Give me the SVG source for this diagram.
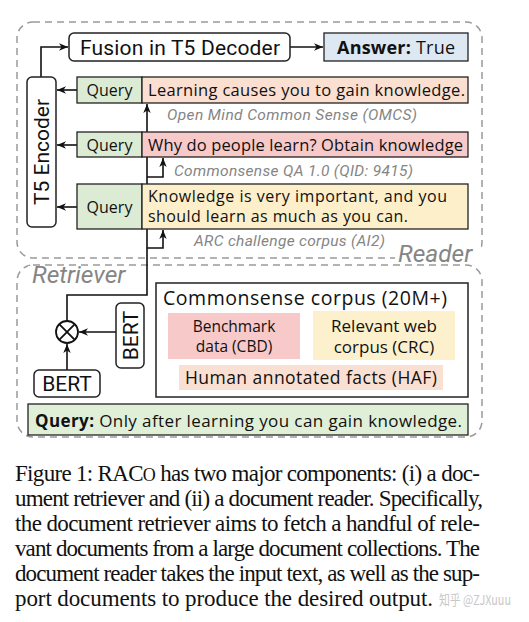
<svg xmlns="http://www.w3.org/2000/svg" width="529" height="622" viewBox="0 0 529 622">
<defs>
<marker id="ah" markerUnits="userSpaceOnUse" markerWidth="10" markerHeight="9" refX="9" refY="4.5" orient="auto">
<path d="M0,0.8 L9,4.5 L0,8.2 L2.6,4.5 z" fill="#111"/>
</marker>
<style>
.dash{fill:none;stroke:#9a9a9a;stroke-width:1.5;stroke-dasharray:7 5}
.box{stroke:#222;stroke-width:1.3}
.wb{fill:#fff;stroke:#222;stroke-width:1.5}
.con{fill:none;stroke:#111;stroke-width:1.6}
.arr{marker-end:url(#ah)}
.ro{font-family:Roboto,"Liberation Sans",sans-serif;fill:#111}
.os{font-family:"Open Sans","DejaVu Sans",sans-serif;fill:#111}
.lab{font-family:Roboto,"Liberation Sans",sans-serif;font-style:italic;fill:#858585}
.cap{font-family:"Liberation Serif","Times New Roman",serif;font-size:23px;fill:#111}
</style>
</defs>
<rect width="529" height="622" fill="#fff"/>

<!-- containers -->
<rect class="dash" x="17" y="22" width="465" height="236" rx="16"/>
<rect class="dash" x="17" y="265" width="465" height="172" rx="16"/>
<rect x="395" y="238" width="86" height="25" fill="#fff"/>
<text class="lab" x="398" y="262" font-size="24.5">Reader</text>
<rect x="28" y="266" width="108" height="22" fill="#fff"/>
<text class="lab" x="32" y="283" font-size="24.5">Retriever</text>

<!-- connectors -->
<g id="connectors">
<path class="con arr" d="M41,77 V47 H68"/>
<path class="con arr" d="M290,47 H323"/>
<path class="con arr" d="M77,90 H57"/>
<path class="con arr" d="M77,145 H57"/>
<path class="con arr" d="M77,207 H57"/>
<path class="con arr" d="M67,321 V295 H147 V104"/>
<path class="con arr" d="M147,177 H163 V158"/>
<path class="con arr" d="M147,248 H163 V230"/>
<path class="con arr" d="M67,370 V344"/>
<path class="con arr" d="M116,332 H79"/>
</g>

<!-- reader nodes -->
<g id="fusion">
<rect class="wb" x="69" y="33" width="221" height="28" rx="5"/>
<text class="ro" x="80" y="54.5" font-size="21" textLength="200">Fusion in T5 Decoder</text>
</g>
<g id="answer">
<rect class="box" x="324" y="33" width="144" height="28" fill="#dde8f3"/>
<text class="os" x="337" y="54" font-size="18" textLength="118"><tspan font-weight="bold">Answer:</tspan> True</text>
</g>
<g id="encoder">
<rect class="wb" x="27" y="77" width="29" height="150" rx="5"/>
<text class="ro" transform="translate(48.5,152) rotate(-90)" text-anchor="middle" font-size="21">T5 Encoder</text>
</g>
<g id="query1">
<rect class="box" x="77" y="77" width="65" height="26" fill="#dcecd4"/>
<text class="os" x="109.5" y="96" font-size="16" text-anchor="middle">Query</text>
</g>
<g id="doc1">
<rect class="box" x="142" y="77" width="326" height="26" fill="#fbdfd0"/>
<text class="os" x="148" y="96" font-size="16.5" textLength="317">Learning causes you to gain knowledge.</text>
</g>
<text class="lab" x="167" y="120" font-size="15.5" textLength="250">Open Mind Common Sense (OMCS)</text>
<g id="query2">
<rect class="box" x="77" y="132" width="65" height="25" fill="#dcecd4"/>
<text class="os" x="109.5" y="151" font-size="16" text-anchor="middle">Query</text>
</g>
<g id="doc2">
<rect class="box" x="142" y="132" width="326" height="25" fill="#f7c9c9"/>
<text class="os" x="148" y="151" font-size="16.5" textLength="315">Why do people learn? Obtain knowledge</text>
</g>
<text class="lab" x="174" y="176" font-size="15.5" textLength="239">Commonsense QA 1.0 (QID: 9415)</text>
<g id="query3">
<rect class="box" x="77" y="184" width="65" height="45" fill="#dcecd4"/>
<text class="os" x="109.5" y="213" font-size="16" text-anchor="middle">Query</text>
</g>
<g id="doc3">
<rect class="box" x="142" y="184" width="326" height="45" fill="#fdefca"/>
<text class="os" x="148" y="202" font-size="16" textLength="299">Knowledge is very important, and you</text>
<text class="os" x="148" y="222" font-size="16" textLength="260">should learn as much as you can.</text>
</g>
<text class="lab" x="194" y="246" font-size="15.5" textLength="191">ARC challenge corpus (AI2)</text>

<!-- retriever nodes -->
<g id="product">
<circle cx="67" cy="332" r="11" fill="#fff" stroke="#111" stroke-width="1.8"/>
<path d="M59.2,324.2 L74.8,339.8 M74.8,324.2 L59.2,339.8" stroke="#111" stroke-width="1.8"/>
</g>
<g id="bert-query">
<rect class="wb" x="34" y="370" width="66" height="27" rx="5"/>
<text class="ro" x="67" y="391" font-size="21" text-anchor="middle">BERT</text>
</g>
<g id="bert-doc">
<rect class="wb" x="116" y="303" width="28" height="65" rx="5"/>
<text class="ro" transform="translate(137.5,335.5) rotate(-90)" text-anchor="middle" font-size="21">BERT</text>
</g>
<g id="corpus">
<rect class="wb" x="156" y="283" width="312" height="114"/>
<text class="os" x="163" y="305" font-size="19.5" textLength="284">Commonsense corpus (20M+)</text>
<rect x="168" y="313" width="132" height="46" fill="#f8c9c9"/>
<text class="os" x="234" y="332" font-size="15.5" text-anchor="middle">Benchmark</text>
<text class="os" x="234" y="352" font-size="15.5" text-anchor="middle">data (CBD)</text>
<rect x="313" y="311" width="142" height="49" fill="#fdf1cd"/>
<text class="os" x="384" y="332" font-size="17" text-anchor="middle">Relevant web</text>
<text class="os" x="384" y="353" font-size="17" text-anchor="middle">corpus (CRC)</text>
<rect x="179" y="365" width="264" height="25" fill="#fae0d3"/>
<text class="os" x="311" y="384" font-size="17.5" text-anchor="middle" textLength="252">Human annotated facts (HAF)</text>
</g>
<g id="input-query">
<rect class="box" x="28" y="404" width="440" height="31" fill="#e0efd8"/>
<text class="os" x="35" y="427" font-size="17" textLength="427"><tspan font-weight="bold">Query:</tspan> Only after learning you can gain knowledge.</text>
</g>

<!-- caption -->
<g id="caption">
<text class="cap" x="15" y="481" textLength="465">Figure 1: RAC<tspan font-size="18">O</tspan> has two major components: (i) a doc-</text>
<text class="cap" x="15" y="506" textLength="468">ument retriever and (ii) a document reader. Specifically,</text>
<text class="cap" x="15" y="531" textLength="465">the document retriever aims to fetch a handful of rele-</text>
<text class="cap" x="15" y="556" textLength="465">vant documents from a large document collections. The</text>
<text class="cap" x="15" y="581" textLength="465">document reader takes the input text, as well as the sup-</text>
<text class="cap" x="15" y="606" textLength="418">port documents to produce the desired output.</text>
<text x="439" y="605" font-family="'Noto Sans CJK SC',sans-serif" font-size="13.5" fill="#c8c8c8" textLength="72" lengthAdjust="spacingAndGlyphs">知乎 @ZJXuuu</text>
</g>
</svg>
